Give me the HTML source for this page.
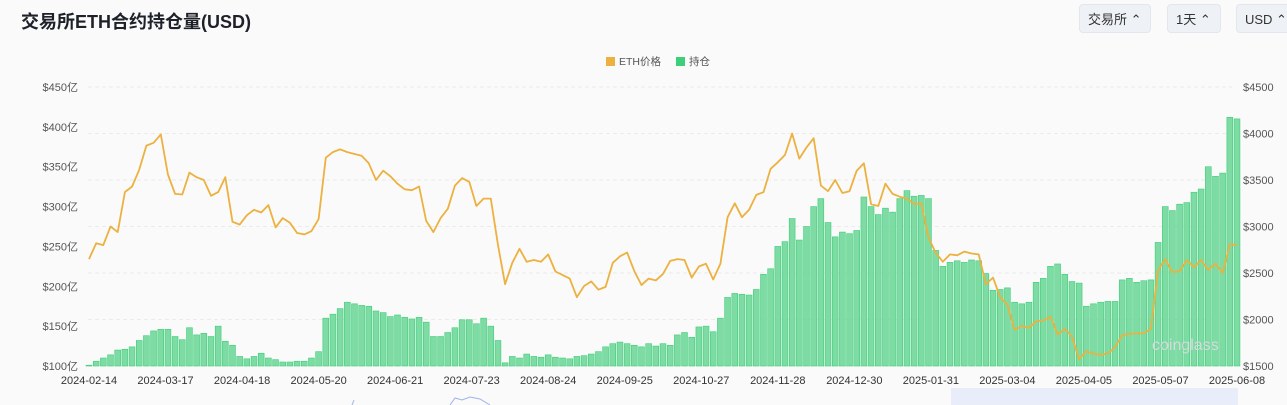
<!DOCTYPE html>
<html><head><meta charset="utf-8">
<style>
html,body{margin:0;padding:0;background:#fafafa;width:1287px;height:405px;overflow:hidden;font-family:"Liberation Sans","Noto Sans CJK SC",sans-serif;}
.title{position:absolute;left:21px;top:8px;font-size:18px;font-weight:bold;color:#1e2129;}
.btn{position:absolute;top:4px;height:29px;border:1px solid #e3e6eb;border-radius:4px;background:#eef1f5;color:#333;font-size:13px;line-height:29px;padding:0 8px;box-sizing:border-box;}
svg{position:absolute;left:0;top:0;}
</style></head><body>
<div class="title">交易所ETH合约持仓量(USD)</div>
<div class="btn" style="left:1079px;width:72px;">交易所 ⌃</div>
<div class="btn" style="left:1167px;width:54px;">1天 ⌃</div>
<div class="btn" style="left:1236px;width:60px;">USD ⌃</div>
<svg id="chart" width="1287" height="405"></svg>
<script>
const dates = ["2024-02-14","2024-03-17","2024-04-18","2024-05-20","2024-06-21","2024-07-23","2024-08-24","2024-09-25","2024-10-27","2024-11-28","2024-12-30","2025-01-31","2025-03-04","2025-04-05","2025-05-07","2025-06-08"];
const leftTicks = [100,150,200,250,300,350,400,450];
const rightTicks = [1500,2000,2500,3000,3500,4000,4500];
// open interest (亿 USD), one value every 3 days
const oiValues = [101,106,110,114,120,121,124,132,138,144,146,146,137,133,148,139,141,137,150,131,126,112,109,112,116,110,108,105,105,106,106,110,118,160,165,172,180,178,176,175,169,167,162,164,161,159,161,155,137,137,142,148,158,158,153,160,150,132,104,112,110,115,112,111,114,111,110,109,112,113,115,118,124,128,130,128,126,124,128,125,128,126,139,142,136,149,150,143,160,186,191,190,189,196,215,222,250,256,285,258,275,300,310,280,262,268,266,270,312,300,290,298,293,310,320,313,314,310,245,225,230,232,230,233,232,216,195,196,198,180,178,180,205,210,225,228,215,206,204,175,178,180,181,181,208,210,205,207,208,255,300,295,303,305,318,322,350,338,342,412,410];
// ETH price (USD), one value every 3 days
const priceValues = [2650,2820,2800,3000,2940,3370,3430,3610,3870,3900,3990,3560,3350,3344,3580,3530,3500,3330,3370,3530,3050,3020,3120,3180,3150,3230,2990,3090,3040,2930,2915,2950,3080,3740,3800,3830,3800,3780,3760,3680,3500,3600,3540,3460,3400,3390,3430,3060,2940,3090,3190,3440,3520,3480,3220,3300,3300,2800,2380,2610,2760,2620,2640,2620,2700,2516,2480,2440,2240,2360,2410,2320,2350,2610,2680,2720,2520,2370,2440,2420,2490,2630,2650,2640,2450,2570,2600,2430,2600,3100,3250,3100,3180,3340,3370,3620,3690,3770,4000,3730,3850,3950,3440,3380,3500,3360,3380,3600,3680,3240,3220,3460,3350,3320,3300,3240,3250,2880,2720,2620,2700,2690,2730,2710,2700,2380,2450,2240,2160,1890,1930,1910,1980,1990,2030,1840,1900,1815,1570,1660,1630,1620,1635,1700,1830,1845,1850,1850,1900,2530,2650,2510,2520,2640,2560,2640,2534,2600,2500,2810,2800];

const NS="http://www.w3.org/2000/svg";
const svg=document.getElementById('chart');
const X0=89, X1=1237, TOP=87, BOT=366;
const n=oiValues.length;
function xAt(i){return X0+(X1-X0)*i/(n-1);}
function yL(v){return BOT-(v-100)/(450-100)*(BOT-TOP);}
function yR(p){return BOT-(p-1500)/(4500-1500)*(BOT-TOP);}
function mk(tag,attrs){const e=document.createElementNS(NS,tag);for(const k in attrs)e.setAttribute(k,attrs[k]);svg.appendChild(e);return e;}

// grid + right ticks
rightTicks.forEach(t=>{
  const g=mk('line',{x1:88,x2:1232,y1:yR(t),y2:yR(t),stroke:'#ebebeb','stroke-dasharray':'4,3'});
  
  
  const tx=mk('text',{x:1243,y:yR(t)+4,'font-size':'11',fill:'#555'});
  tx.textContent='$'+t;
  
  
});
leftTicks.forEach(t=>{
  const tx=mk('text',{x:78,y:yL(t)+4,'font-size':'11',fill:'#555','text-anchor':'end'});
  tx.textContent='$'+t+'亿';
  
  
});
// bars
const step=(X1-X0)/(n-1), bw=step-1.3;
oiValues.forEach((v,i)=>{
  const y=yL(v);
  const r=mk('rect',{x:xAt(i)-bw/2,y:y,width:bw,height:BOT-y,fill:'#7ddba3',stroke:'#3ecf7a','stroke-width':'0.6'});
  
  
});
// price line
let d='';
priceValues.forEach((p,i)=>{d+=(i?'L':'M')+xAt(i).toFixed(1)+','+yR(p).toFixed(1);});
const pl=mk('path',{d:d,fill:'none',stroke:'#ecb13f','stroke-width':'1.8','stroke-linejoin':'round'});


// x labels
dates.forEach((s,k)=>{
  const tx=mk('text',{x:X0+(X1-X0)*k/(dates.length-1),y:384,'font-size':'11',fill:'#333','text-anchor':'middle'});
  tx.textContent=s;
  
  
});
// watermark
const wm=mk('text',{x:1152,y:350,'font-size':'16',fill:'#d6d9dd'});
wm.textContent='coinglass';


// legend
const l1=mk('rect',{x:606,y:57,width:9,height:9,fill:'#ecb13f'});


const t1=mk('text',{x:619,y:65,'font-size':'10.5',fill:'#555'});t1.textContent='ETH价格';


const l2=mk('rect',{x:676,y:57,width:9,height:9,fill:'#3ecf7a'});


const t2=mk('text',{x:689,y:65,'font-size':'10.5',fill:'#555'});t2.textContent='持仓';


// zoom slider
const sb=mk('rect',{x:951,y:388,width:287,height:20,fill:'#e8edf9'});


const sl=mk('path',{d:'M352,405 L354,400 M450,405 L455,398 L462,400 L470,397 L480,399 L490,405',fill:'none',stroke:'#9fb3ea','stroke-width':'1'});


</script>
</body></html>
